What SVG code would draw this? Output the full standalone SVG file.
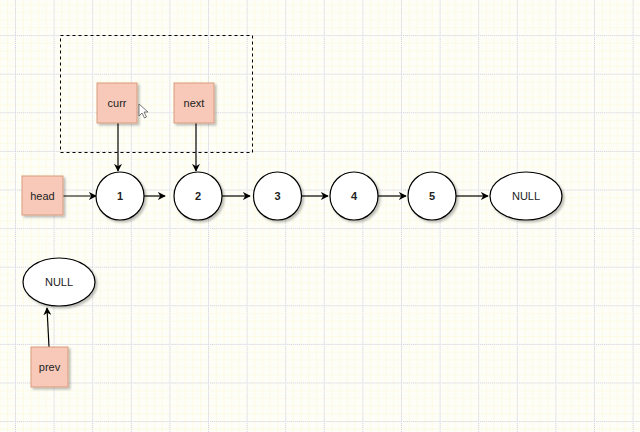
<svg xmlns="http://www.w3.org/2000/svg" width="640" height="432" viewBox="0 0 640 432">
<defs>
<pattern id="minor" width="7.72" height="7.72" patternUnits="userSpaceOnUse">
<rect width="7.72" height="7.72" fill="#fefef8"/>
<path d="M0 0H7.72M0 0V7.72" stroke="#f4ee9a" stroke-width="1" stroke-dasharray="1 1.5"/>
</pattern>
<pattern id="major" x="15" y="-3.5" width="38.6" height="38.6" patternUnits="userSpaceOnUse">
<rect width="38.6" height="38.6" fill="url(#minor)"/>
<path d="M0 0.5H38.6M0.5 0V38.6" stroke="#d0d0ec" stroke-width="1" stroke-dasharray="1 1"/>
</pattern>
<marker id="arr" viewBox="0 0 10 10" refX="9" refY="5" markerWidth="8" markerHeight="8" markerUnits="userSpaceOnUse" orient="auto">
<path d="M0 0L10 5L0 10L3 5Z" fill="#000"/>
</marker>
<filter id="sh" x="-20%" y="-20%" width="150%" height="150%">
<feDropShadow dx="2" dy="2" stdDeviation="1.2" flood-color="#000" flood-opacity="0.25"/>
</filter>
</defs>
<style>
.box{fill:#f8c9b9;stroke:#d79b7f;stroke-width:1;filter:url(#sh)}
.node{fill:#fff;stroke:#000;stroke-width:1.2;filter:url(#sh)}
.lbl{font-family:"Liberation Sans",Arial,sans-serif;font-size:11px;fill:#222;text-anchor:middle;dominant-baseline:central}
.num{font-weight:bold}
.edge{stroke:#000;stroke-width:1.2;fill:none;marker-end:url(#arr)}
</style>
<rect width="640" height="432" fill="url(#major)"/>
<rect id="frame" x="60.5" y="35.5" width="192" height="117" fill="none" stroke="#000" stroke-width="1" stroke-dasharray="3 3"/>
<g id="connectors">
<path class="edge" d="M63 196H96"/>
<path class="edge" d="M144 196H165"/>
<path class="edge" d="M222 196H250"/>
<path class="edge" d="M302 196H328"/>
<path class="edge" d="M378 196H406"/>
<path class="edge" d="M456 196H488"/>
<path class="edge" d="M118 123V171"/>
<path class="edge" d="M196 123V171"/>
<path class="edge" d="M49 347L47 308"/>
</g>
<g id="curr"><rect class="box" x="97" y="83" width="40" height="40"/><text class="lbl" x="117" y="103">curr</text></g>
<g id="next"><rect class="box" x="174" y="83" width="40" height="40"/><text class="lbl" x="194" y="103">next</text></g>
<g id="head"><rect class="box" x="22" y="176" width="41" height="39"/><text class="lbl" x="42.5" y="196">head</text></g>
<g id="n1"><circle class="node" cx="120" cy="196" r="24"/><text class="lbl num" x="120" y="196">1</text></g>
<g id="n2"><circle class="node" cx="198" cy="196" r="24"/><text class="lbl num" x="198" y="196">2</text></g>
<g id="n3"><circle class="node" cx="277.5" cy="196" r="24"/><text class="lbl num" x="277.5" y="196">3</text></g>
<g id="n4"><circle class="node" cx="354" cy="196" r="24"/><text class="lbl num" x="354" y="196">4</text></g>
<g id="n5"><circle class="node" cx="432" cy="196" r="24"/><text class="lbl num" x="432" y="196">5</text></g>
<g id="null1"><ellipse class="node" cx="526" cy="196" rx="36" ry="24"/><text class="lbl" x="526" y="196">NULL</text></g>
<g id="null2"><ellipse class="node" cx="59" cy="282" rx="36" ry="24"/><text class="lbl" x="59" y="282">NULL</text></g>
<g id="prev"><rect class="box" x="31" y="347" width="37" height="40"/><text class="lbl" x="49.5" y="367">prev</text></g>
<path id="cursor" d="M139 104V116L142 113L144.5 118L146.5 117L144 112L148 112Z" fill="#fff" stroke="#555" stroke-width="0.8"/>
</svg>
